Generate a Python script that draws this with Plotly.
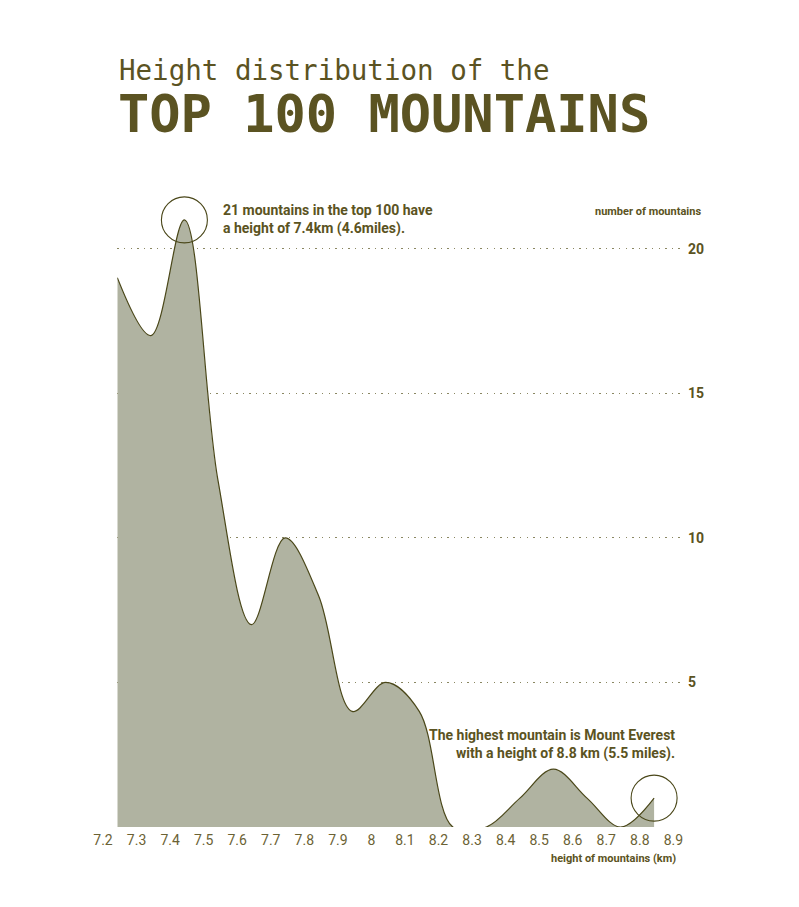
import plotly.graph_objects as go

# height bins (km) and how many of the top 100 mountains fall in each
heights = [7.2, 7.3, 7.4, 7.5, 7.6, 7.7, 7.8, 7.9, 8.0, 8.1, 8.2, 8.3, 8.4, 8.5, 8.6, 8.7, 8.8]
counts = [19, 17, 21, 12, 7, 10, 8, 4, 5, 4, 0, 0, 1, 2, 1, 0, 1]

x_ticks = [7.2, 7.3, 7.4, 7.5, 7.6, 7.7, 7.8, 7.9, 8.0, 8.1, 8.2, 8.3, 8.4, 8.5, 8.6, 8.7, 8.8, 8.9]
x_labels = ["7.2", "7.3", "7.4", "7.5", "7.6", "7.7", "7.8", "7.9", "8", "8.1",
            "8.2", "8.3", "8.4", "8.5", "8.6", "8.7", "8.8", "8.9"]
y_ticks = [5, 10, 15, 20]

OLIVE = "#5b5322"
LABEL = "#6b6234"
LINE = "#4a4719"
FILL = "#b0b3a1"
GRID = "#8a8762"
SANS = "Roboto, Lato, sans-serif"
MONO = "DejaVu Sans Mono, Liberation Mono, monospace"

# page puts the figure 8px in from the top left corner
OFF = 8
W, H = 799, 907
L, R, T, B = 103 - OFF, 116 + OFF, 191 - OFF, 80 + OFF
pw, ph = W - L - R, H - T - B
K = 335.5  # pixels per km


def px(x):
    return (x - OFF - L) / pw


def py(y):
    return (H - B - (y - OFF)) / ph


fig = go.Figure()
fig.add_trace(go.Scatter(
    x=heights, y=counts, mode="lines",
    line=dict(shape="spline", smoothing=1, color=LINE, width=1.2),
    fill="tozeroy", fillcolor=FILL, hoverinfo="skip", showlegend=False,
))
# empty trace so the tick-label axis gets drawn
fig.add_trace(go.Scatter(x=[], y=[], xaxis="x2", yaxis="y2", showlegend=False))

# circles around the tallest bin and around Everest
imax = counts.index(max(counts))
for i in (imax, len(heights) - 1):
    fig.add_shape(type="circle", xref="x", yref="y", xsizemode="pixel", ysizemode="pixel",
                  xanchor=heights[i], yanchor=counts[i], x0=-23, x1=23, y0=-23, y1=23,
                  line=dict(color=LINE, width=1.1))

fig.update_layout(
    width=W, height=H,
    margin=dict(l=L, r=R, t=T, b=B),
    plot_bgcolor="rgba(0,0,0,0)", paper_bgcolor="white",
    xaxis=dict(domain=[px(117.3), 1], range=[7.2, 7.2 + (683 - 117.3) / K], anchor="y",
               showticklabels=False, showgrid=False, zeroline=False, showline=False),
    xaxis2=dict(domain=[0, 1], range=[7.2, 7.2 + pw / K], anchor="y2",
                tickvals=x_ticks, ticktext=x_labels, ticks="", ticklabelstandoff=3,
                tickfont=dict(family=SANS, size=14, color=LABEL),
                showgrid=False, zeroline=False, showline=False),
    yaxis=dict(range=[0, 22], side="right", tickvals=y_ticks, ticks="", anchor="x",
               ticklabelstandoff=4,
               tickfont=dict(family=SANS, size=14, color=OLIVE, weight="bold"),
               showgrid=True, gridcolor=GRID, griddash="1.4px,5.2px", gridwidth=1.4,
               zeroline=False, showline=False),
    yaxis2=dict(range=[0, 22], domain=[0, 1], anchor="x2", showticklabels=False,
                showgrid=False, zeroline=False, showline=False),
)

fig.add_annotation(text="Height distribution of the", xref="paper", yref="paper",
                   x=px(117), y=py(70), xanchor="left", yanchor="middle", showarrow=False,
                   font=dict(family=MONO, size=27.5, color=OLIVE))
fig.add_annotation(text="<b>TOP 100 MOUNTAINS</b>", xref="paper", yref="paper",
                   x=px(116), y=py(114), xanchor="left", yanchor="middle", showarrow=False,
                   font=dict(family=MONO, size=52, color=OLIVE))
fig.add_annotation(text="<b>21 mountains in the top 100 have<br>a height of 7.4km (4.6miles).</b>",
                   xref="paper", yref="paper", x=px(221), y=py(219), xanchor="left",
                   yanchor="middle", align="left", showarrow=False,
                   font=dict(family=SANS, size=14, color=OLIVE))
fig.add_annotation(text="<b>number of mountains</b>", xref="paper", yref="paper",
                   x=px(703), y=py(211), xanchor="right", yanchor="middle", showarrow=False,
                   font=dict(family=SANS, size=11, color=OLIVE))
fig.add_annotation(text="<b>The highest mountain is Mount Everest<br>with a height of 8.8 km (5.5 miles).</b>",
                   xref="paper", yref="paper", x=px(677), y=py(744), xanchor="right",
                   yanchor="middle", align="right", showarrow=False,
                   font=dict(family=SANS, size=14, color=OLIVE))
fig.add_annotation(text="<b>height of mountains (km)</b>", xref="paper", yref="paper",
                   x=px(678), y=py(858), xanchor="right", yanchor="middle", showarrow=False,
                   font=dict(family=SANS, size=11, color=OLIVE))

fig.write_html("out.html")
